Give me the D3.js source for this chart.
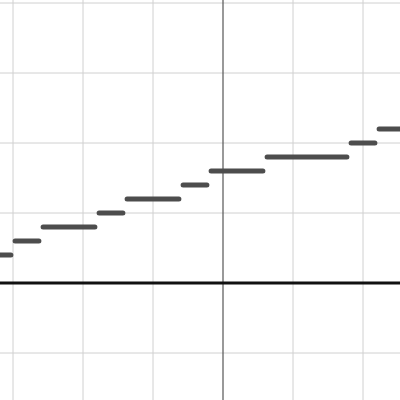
<!DOCTYPE html>
<html><head><meta charset="utf-8">
<script src="https://cdn.jsdelivr.net/npm/d3@7"></script>
<style>body{margin:0;background:#fff}</style>
</head><body>
<script>
// step segments: start x, end x, level
var stepStart = [-3.4, -3.0, -2.6, -1.8, -1.4, -0.6, -0.2, 0.6, 1.8, 2.2];
var stepEnd   = [-3.0, -2.6, -1.8, -1.4, -0.6, -0.2, 0.6, 1.8, 2.2, 2.8];
var stepLevel = [0.4, 0.6, 0.8, 1.0, 1.2, 1.4, 1.6, 1.8, 2.0, 2.2];
var gridX = [-3, -2, -1, 1, 2];
var gridY = [-1, 1, 2, 3, 4];

var width = 400, height = 400;
var x = d3.scaleLinear().domain([-223 / 70, 177 / 70]).range([0, width]);
var y = d3.scaleLinear().domain([-117 / 70, 283 / 70]).range([height, 0]);

var svg = d3.select('body').append('svg').attr('width', width).attr('height', height);

svg.selectAll('line.gx').data(gridX).enter().append('line')
  .attr('x1', function(d) { return x(d); }).attr('x2', function(d) { return x(d); })
  .attr('y1', 0).attr('y2', height).attr('stroke', '#d0d0d0').attr('stroke-width', 1);
svg.selectAll('line.gy').data(gridY).enter().append('line')
  .attr('y1', function(d) { return y(d); }).attr('y2', function(d) { return y(d); })
  .attr('x1', 0).attr('x2', width).attr('stroke', '#d0d0d0').attr('stroke-width', 1);

// y axis (thin) and y=0 line (thick)
svg.append('line').attr('x1', x(0)).attr('x2', x(0)).attr('y1', 0).attr('y2', height)
  .attr('stroke', '#555').attr('stroke-width', 1.2);
svg.append('line').attr('x1', 0).attr('x2', width).attr('y1', y(0)).attr('y2', y(0))
  .attr('stroke', '#111').attr('stroke-width', 3);

var gap = 0.03;
svg.selectAll('line.step').data(stepLevel).enter().append('line')
  .attr('x1', function(d, i) { return x(stepStart[i] + gap); })
  .attr('x2', function(d, i) { return x(stepEnd[i] - gap); })
  .attr('y1', function(d) { return y(d); })
  .attr('y2', function(d) { return y(d); })
  .attr('stroke', '#4d4d4d').attr('stroke-width', 5).attr('stroke-linecap', 'round');
</script>
</body></html>
